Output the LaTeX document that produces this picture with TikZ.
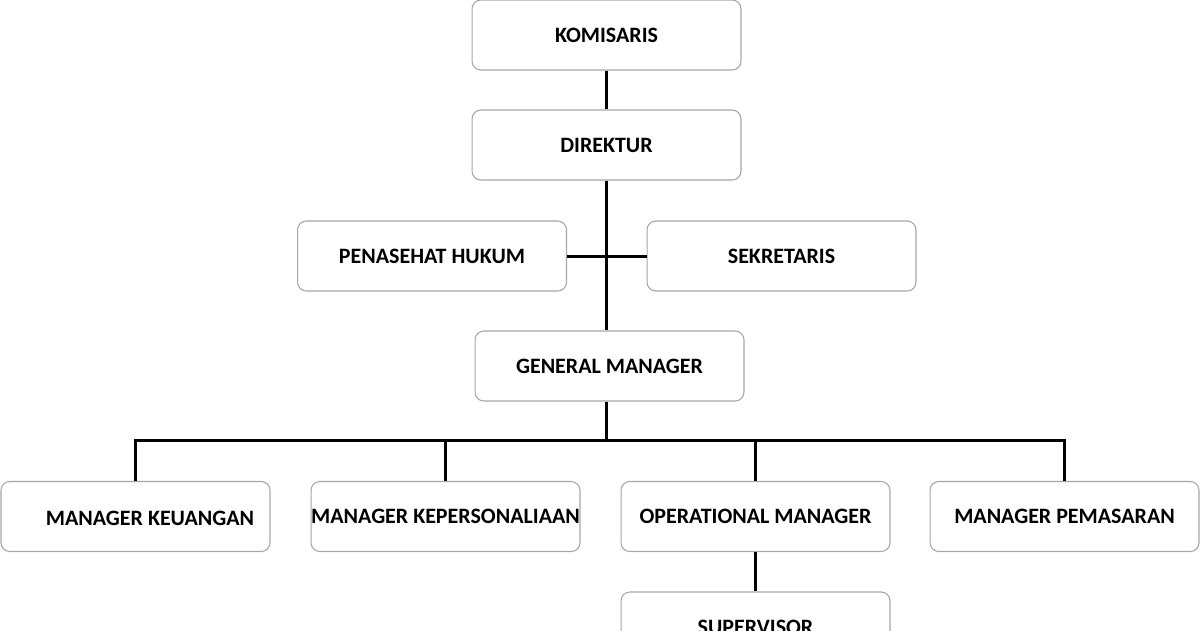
\documentclass[tikz,border=0pt]{standalone}
\usepackage{fontspec}
\setmainfont{Carlito}
\begin{document}
\begin{tikzpicture}[x=0.02cm,y=-0.02cm,
  box/.style={draw=gray!70,line width=0.6pt,rounded corners=5pt,minimum width=5.38cm,minimum height=1.4cm,font=\bfseries\fontsize{12.5}{14}\selectfont,inner sep=0pt},
  conn/.style={line width=1.7pt,black}]
\path[use as bounding box] (0,0) rectangle (1200,630);
\begin{scope}
\clip (0,0) rectangle (1200,630);
\node[box] (kom) at (606.5,35) {KOMISARIS};
\node[box] (dir) at (606.5,145) {DIREKTUR};
\node[box] (ph) at (432,256) {PENASEHAT HUKUM};
\node[box] (sek) at (781.5,256) {SEKRETARIS};
\node[box] (gm) at (609.5,366) {GENERAL MANAGER};
\node[box] (mk) at (135.5,516.5) {};
\node at (150,518) [font=\bfseries\fontsize{12.5}{14}\selectfont] {MANAGER KEUANGAN};
\node[box] (mkp) at (445.5,516.5) {MANAGER KEPERSONALIAAN};
\node[box] (om) at (755.5,516.5) {OPERATIONAL MANAGER};
\node[box] (mp) at (1064.5,516.5) {MANAGER PEMASARAN};
\node[box] (sup) at (755.5,627) {SUPERVISOR};
\coordinate (j) at (606,256);
\coordinate (bar) at (606,440);
\draw[conn] (kom) -- (dir);
\draw[conn] (dir.south -| j) -- (gm.north -| j);
\draw[conn] (ph) -- (sek);
\draw[conn] (gm.south -| bar) -- (bar);
\draw[conn] (mk.north) |- (bar) -| (mp.north);
\draw[conn] (mkp.north) -- (mkp.north |- bar);
\draw[conn] (om.north) -- (om.north |- bar);
\draw[conn] (om) -- (sup);
\end{scope}
\end{tikzpicture}
\end{document}
